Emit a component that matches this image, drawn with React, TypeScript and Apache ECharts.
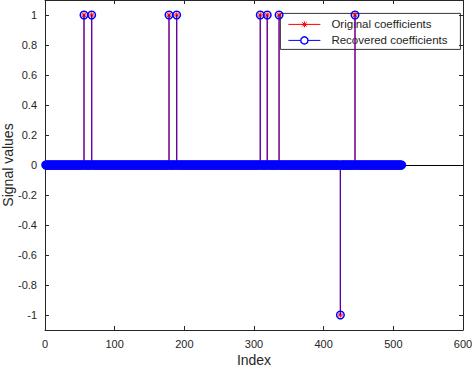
import React, { useEffect, useRef } from "react";
import * as echarts from "echarts";

// Signal description (1-based index positions of non-zero coefficients)
const signalLength = 512;
const spikeIndex = [56, 67, 178, 189, 309, 319, 336, 424, 445];
const originalSpikeValue = [1, 1, 1, 1, 1, 1, 1, -1, 1];
const recoveredSpikeValue = [1, 1, 1, 1, 1, 1, 1, -1, 1];

const xTicks = [0, 100, 200, 300, 400, 500, 600];
const yTicks = [-1, -0.8, -0.6, -0.4, -0.2, 0, 0.2, 0.4, 0.6, 0.8, 1];

const seriesNames = ["Original coefficients", "Recovered coefficients"];

function buildSignal(idx: number[], vals: number[]): number[][] {
  const out: number[][] = [];
  for (let i = 1; i <= signalLength; i++) {
    const k = idx.indexOf(i);
    out.push([i, k >= 0 ? vals[k] : 0]);
  }
  return out;
}

const originalData = buildSignal(spikeIndex, originalSpikeValue);
const recoveredData = buildSignal(spikeIndex, recoveredSpikeValue);

const RED = "#ff0000";
const BLUE = "#0000ff";
const TXT = "#262626";
const FONT = "'Liberation Sans', Arial, Helvetica, sans-serif";

function asterisk(cx: number, cy: number, s: number, color: string) {
  const d = s * 0.707;
  const st = { stroke: color, lineWidth: 1 };
  return [
    { type: "line", shape: { x1: cx - s, y1: cy, x2: cx + s, y2: cy }, style: st },
    { type: "line", shape: { x1: cx, y1: cy - s, x2: cx, y2: cy + s }, style: st },
    { type: "line", shape: { x1: cx - d, y1: cy - d, x2: cx + d, y2: cy + d }, style: st },
    { type: "line", shape: { x1: cx - d, y1: cy + d, x2: cx + d, y2: cy - d }, style: st },
  ];
}

export default function App() {
  const ref = useRef<HTMLDivElement>(null);
  useEffect(() => {
    if (!ref.current) return;
    const chart = echarts.init(ref.current, null, { renderer: "svg" });

    const axisCommon = {
      axisLine: { show: true, onZero: false, lineStyle: { color: TXT, width: 1 } },
      splitLine: { show: false },
    };

    const option: any = {
      animation: false,
      backgroundColor: "#ffffff",
      grid: { left: 45, right: 11, top: 0, bottom: 39, containLabel: false, outerBoundsMode: "none" },
      xAxis: [
        {
          type: "value",
          min: 0,
          max: 600,
          interval: 100,
          position: "bottom",
          ...axisCommon,
          axisTick: { show: true, inside: true, length: 4, lineStyle: { color: TXT } },
          axisLabel: { color: TXT, fontSize: 11, fontFamily: FONT, margin: 8, showMaxLabel: true, hideOverlap: false },
          name: "Index",
          nameLocation: "middle",
          nameGap: 23,
          nameMoveOverlap: false,
          nameTextStyle: { color: TXT, fontSize: 14, fontFamily: FONT },
        },
        {
          type: "value",
          min: 0,
          max: 600,
          interval: 100,
          position: "top",
          ...axisCommon,
          axisTick: { show: true, inside: true, length: 4, lineStyle: { color: TXT } },
          axisLabel: { show: false },
        },
      ],
      yAxis: [
        {
          type: "value",
          min: -1.1,
          max: 1.1,
          position: "left",
          ...axisCommon,
          axisTick: { show: true, inside: true, length: 4, customValues: yTicks, lineStyle: { color: TXT } },
          axisLabel: {
            color: TXT,
            fontSize: 11,
            fontFamily: FONT,
            margin: 8,
            customValues: yTicks,
            formatter: (v: number) => String(Math.round(v * 10) / 10),
          },
          name: "Signal values",
          nameLocation: "middle",
          nameGap: 30,
          nameMoveOverlap: false,
          nameTextStyle: { color: TXT, fontSize: 14, fontFamily: FONT },
        },
        {
          type: "value",
          min: -1.1,
          max: 1.1,
          position: "right",
          ...axisCommon,
          axisTick: { show: true, inside: true, length: 4, customValues: yTicks, lineStyle: { color: TXT } },
          axisLabel: { show: false },
        },
      ],
      series: [
        {
          name: seriesNames[0],
          type: "custom",
          xAxisIndex: 0,
          yAxisIndex: 0,
          z: 3,
          data: originalData,
          encode: { x: 0, y: 1 },
          renderItem: (params: any, api: any) => {
            const x = api.value(0);
            const y = api.value(1);
            const p = api.coord([x, y]);
            const b = api.coord([x, 0]);
            return {
              type: "group",
              children: [
                { type: "line", shape: { x1: b[0], y1: b[1], x2: p[0], y2: p[1] }, style: { stroke: RED, lineWidth: 1.2 } },
                ...asterisk(p[0], p[1], 2.6, RED),
              ],
            };
          },
          markLine: {
            silent: true,
            symbol: "none",
            label: { show: false },
            lineStyle: { color: "#000000", width: 1, type: "solid" },
            data: [{ yAxis: 0 }],
            z: 1,
          },
        },
        {
          name: seriesNames[1],
          type: "custom",
          xAxisIndex: 0,
          yAxisIndex: 0,
          z: 4,
          data: recoveredData,
          encode: { x: 0, y: 1 },
          renderItem: (params: any, api: any) => {
            const x = api.value(0);
            const y = api.value(1);
            const p = api.coord([x, y]);
            const b = api.coord([x, 0]);
            return {
              type: "group",
              children: [
                { type: "line", shape: { x1: b[0], y1: b[1], x2: p[0], y2: p[1] }, style: { stroke: BLUE, lineWidth: 1.2, opacity: 0.7 } },
                { type: "circle", shape: { cx: p[0], cy: p[1], r: 3.8 }, style: { fill: "none", stroke: BLUE, lineWidth: 1.5 } },
              ],
            };
          },
        },
      ],
      graphic: [
        {
          type: "group",
          left: 280,
          top: 13,
          z: 100,
          children: [
            { type: "rect", shape: { x: 0, y: 0, width: 180, height: 36 }, style: { fill: "#ffffff", stroke: "#000000", lineWidth: 0.8 } },
            { type: "line", shape: { x1: 8, y1: 11, x2: 40, y2: 11 }, style: { stroke: RED, lineWidth: 1 } },
            ...asterisk(24, 11, 3, RED),
            { type: "text", x: 51, y: 11, style: { text: seriesNames[0], fill: TXT, font: `11.5px ${FONT}`, verticalAlign: "middle" } },
            { type: "line", shape: { x1: 8, y1: 27, x2: 40, y2: 27 }, style: { stroke: BLUE, lineWidth: 1 } },
            { type: "circle", shape: { cx: 24, cy: 27, r: 3.6 }, style: { fill: "#ffffff", stroke: BLUE, lineWidth: 1.4 } },
            { type: "text", x: 51, y: 27, style: { text: seriesNames[1], fill: TXT, font: `11.5px ${FONT}`, verticalAlign: "middle" } },
          ],
        },
      ],
    };
    chart.setOption(option);
    return () => chart.dispose();
  }, []);
  return <div ref={ref} style={{ width: 474, height: 369, position: "absolute", left: 0, top: 0 }} />;
}
